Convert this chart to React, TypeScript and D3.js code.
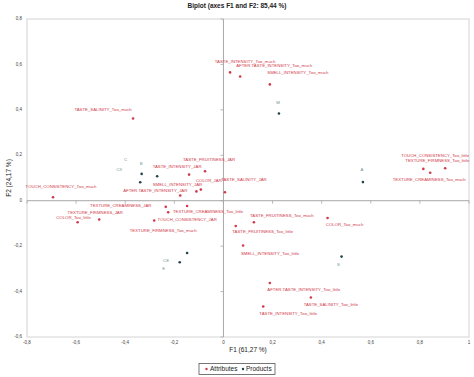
import React from "react";
import * as d3 from "d3";

const attributeNames = [
  "TASTE_SALINITY_Too_much",
  "TASTE_INTENSITY_Too_much",
  "AFTER.TASTE_INTENSITY_Too_much",
  "SMELL_INTENSITY_Too_much",
  "TOUCH_CONSISTENCY_Too_little",
  "TEXTURE_FIRMNESS_Too_little",
  "TEXTURE_CREAMINESS_Too_much",
  "TASTE_SALINITY_JAR",
  "TASTE_FRUITINESS_JAR",
  "TASTE_INTENSITY_JAR",
  "COLOR_JAR",
  "SMELL_INTENSITY_JAR",
  "AFTER.TASTE_INTENSITY_JAR",
  "TOUCH_CONSISTENCY_Too_much",
  "TEXTURE_CREAMINESS_JAR",
  "TEXTURE_CREAMINESS_Too_little",
  "TOUCH_CONSISTENCY_JAR",
  "TEXTURE_FIRMNESS_Too_much",
  "TEXTURE_FIRMNESS_JAR",
  "COLOR_Too_little",
  "TASTE_FRUITINESS_Too_little",
  "TASTE_FRUITINESS_Too_much",
  "COLOR_Too_much",
  "SMELL_INTENSITY_Too_little",
  "AFTER.TASTE_INTENSITY_Too_little",
  "TASTE_SALINITY_Too_little",
  "TASTE_INTENSITY_Too_little",
];
const attributeF1 = [
  -0.368, 0.027, 0.068, 0.189, 0.903, 0.814, 0.842, 0.006, -0.075, -0.14,
  -0.092, -0.11, -0.176, -0.694, -0.235, -0.148, -0.225, -0.282, -0.506,
  -0.594, 0.05, 0.124, 0.424, 0.08, 0.189, 0.356, 0.162,
];
const attributeF2 = [
  0.362, 0.565, 0.547, 0.512, 0.143, 0.14, 0.123, 0.037, 0.13, 0.115, 0.049,
  0.041, 0.023, 0.015, -0.027, -0.023, -0.051, -0.087, -0.083, -0.095,
  -0.111, -0.095, -0.076, -0.197, -0.362, -0.426, -0.466,
];

const productNames = ["A", "B", "C", "CX", "CE", "E", "M", "S"];
const productF1 = [0.568, -0.27, -0.333, -0.339, -0.148, -0.178, 0.226, 0.481];
const productF2 = [0.082, 0.108, 0.118, 0.081, -0.23, -0.271, 0.384, -0.246];

const xTicks = [-0.8, -0.6, -0.4, -0.2, 0, 0.2, 0.4, 0.6, 0.8, 1];
const yTicks = [-0.6, -0.4, -0.2, 0, 0.2, 0.4, 0.6, 0.8];

// label placement (pixel offsets of label centre from its point)
const attributeLabelOffsets: [number, number][] = [
  [-30, -9], [15, -11], [34, -11], [28, -12], [-10, -12], [14, -8], [-1, 7],
  [19, -12], [4, -11], [-12, -8], [8, -8.5], [-19, -6.5], [-25, -5], [8, -10],
  [-45, -1], [21, 6], [19, 8], [9, 10], [-4, -7], [-4, -4], [27, 6],
  [28, -6], [17, 7], [27, 8], [34, 7], [20, 7], [25, 7],
];
const productLabelOffsets: [number, number][] = [
  [-1, -12], [-16, -12], [-16, -14], [-21, -12], [-21, 8], [-16, 7], [-1, -11], [-3, 8],
];

const W = 474;
const H = 377;
const plot = { left: 27, right: 469, top: 19, bottom: 337 };
const attrColor = "#d0394a";
const prodPoint = "#1e4548";
const prodLabel = "#6f9494";
const font = "'Liberation Sans', Arial, sans-serif";
const labelSize = 4.3;

const locale = d3.formatLocale({
  decimal: ",",
  thousands: ".",
  grouping: [3],
  currency: ["", ""],
  minus: "-",
});
const fmt = locale.format("");

export default function App() {
  const x = d3.scaleLinear().domain([-0.8, 1]).range([plot.left, plot.right]);
  const y = d3.scaleLinear().domain([-0.6, 0.8]).range([plot.bottom, plot.top]);
  const x0 = x(0);
  const y0 = y(0);

  return (
    <svg
      width={W}
      height={H}
      style={{ position: "absolute", left: 0, top: 0, background: "#fff" }}
      fontFamily={font}
    >
      <text x={W / 2} y={6} fontSize={6.5} fontWeight="bold" textAnchor="middle" dominantBaseline="middle" fill="#222">
        Biplot (axes F1 and F2: 85,44 %)
      </text>
      <rect
        x={plot.left}
        y={plot.top}
        width={plot.right - plot.left}
        height={plot.bottom - plot.top}
        fill="none"
        stroke="#d4d4d4"
        strokeWidth={1}
      />
      <line x1={x0} x2={x0} y1={plot.top} y2={plot.bottom} stroke="#a8a8a8" strokeWidth={1} />
      <line x1={plot.left} x2={plot.right} y1={y0} y2={y0} stroke="#a8a8a8" strokeWidth={1} />
      {yTicks.map((t) => (
        <g key={"yt" + t}>
          <line x1={x0 - 3} x2={x0} y1={y(t)} y2={y(t)} stroke="#a8a8a8" strokeWidth={0.8} />
          <text x={22} y={y(t)} fontSize={4.5} textAnchor="end" dominantBaseline="middle" fill="#444">
            {fmt(t)}
          </text>
        </g>
      ))}
      {xTicks.map((t) => (
        <g key={"xt" + t}>
          <line x1={x(t)} x2={x(t)} y1={y0} y2={y0 + 3} stroke="#a8a8a8" strokeWidth={0.8} />
          <text x={x(t)} y={343} fontSize={4.5} textAnchor="middle" dominantBaseline="middle" fill="#444">
            {fmt(t)}
          </text>
        </g>
      ))}
      <text x={(plot.left + plot.right) / 2} y={350} fontSize={6.5} textAnchor="middle" dominantBaseline="middle" fill="#222">
        F1 (61,27 %)
      </text>
      <text
        transform={`translate(9,${(plot.top + plot.bottom) / 2}) rotate(-90)`}
        fontSize={6.5}
        textAnchor="middle"
        dominantBaseline="middle"
        fill="#222"
      >
        F2 (24,17 %)
      </text>

      {attributeNames.map((n, i) => {
        const px = x(attributeF1[i]);
        const py = y(attributeF2[i]);
        const [dx, dy] = attributeLabelOffsets[i];
        return (
          <g key={n}>
            <circle cx={px} cy={py} r={1.3} fill={attrColor} />
            <text x={px + dx} y={py + dy} fontSize={labelSize} textAnchor="middle" dominantBaseline="middle" fill={attrColor}>
              {n}
            </text>
          </g>
        );
      })}

      {productNames.map((n, i) => {
        const px = x(productF1[i]);
        const py = y(productF2[i]);
        const [dx, dy] = productLabelOffsets[i];
        return (
          <g key={n}>
            <circle cx={px} cy={py} r={1.3} fill={prodPoint} />
            <text x={px + dx} y={py + dy} fontSize={labelSize} textAnchor="middle" dominantBaseline="middle" fill={prodLabel}>
              {n}
            </text>
          </g>
        );
      })}

      <g>
        <rect x={199} y={363.5} width={76} height={11} fill="#fff" stroke="#555" strokeWidth={0.8} />
        <circle cx={206.5} cy={369} r={1.2} fill={attrColor} />
        <text x={210} y={369} fontSize={6.5} dominantBaseline="middle" fill="#222">
          Attributes
        </text>
        <circle cx={243} cy={369} r={1.2} fill={prodPoint} />
        <text x={246} y={369} fontSize={6.5} dominantBaseline="middle" fill="#222">
          Products
        </text>
      </g>
    </svg>
  );
}
